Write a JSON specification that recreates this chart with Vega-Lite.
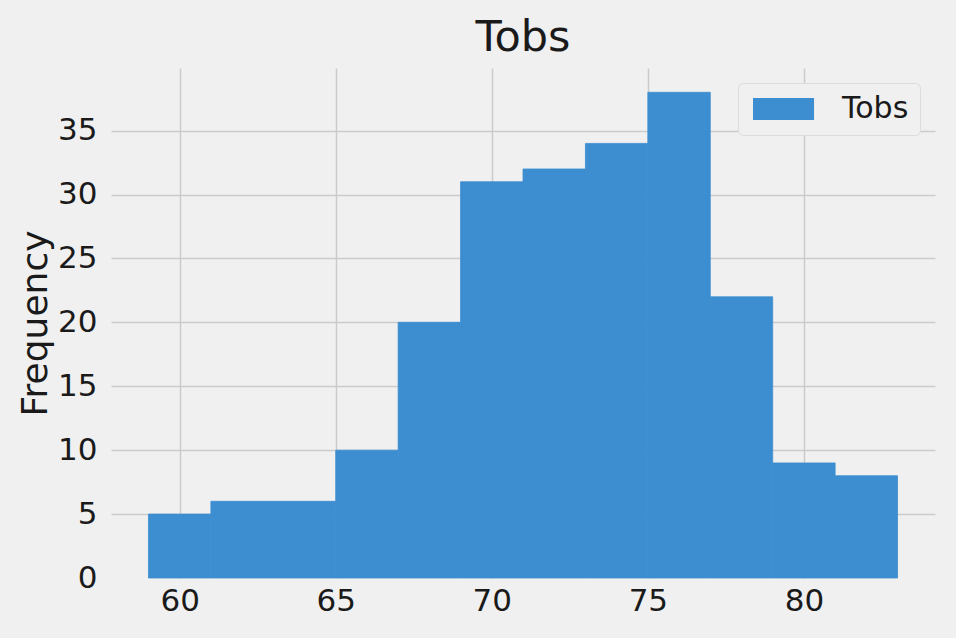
{
  "$schema": "https://vega.github.io/schema/vega-lite/v6.json",
  "width": 824,
  "height": 510,
  "autosize": {"type": "none"},
  "padding": {"left": 111, "top": 68, "right": 21, "bottom": 60},
  "background": "#f0f0f0",
  "config": {
    "font": "DejaVu Sans",
    "view": {"stroke": null, "fill": "#f0f0f0"},
    "axis": {
      "domain": false,
      "ticks": false,
      "tickSize": 0,
      "gridColor": "#cbcbcb",
      "gridWidth": 1.5,
      "labelFont": "DejaVu Sans",
      "labelFontSize": 31,
      "labelColor": "#1a1a1a",
      "titleFont": "DejaVu Sans",
      "titleFontWeight": "normal",
      "titleColor": "#1a1a1a"
    }
  },
  "title": {
    "text": "Tobs",
    "font": "DejaVu Sans",
    "fontSize": 43,
    "fontWeight": "normal",
    "color": "#1a1a1a",
    "anchor": "middle",
    "offset": 8
  },
  "data": {
    "values": [
      {"bin_start": 59, "bin_end": 61, "count": 5, "series": "Tobs"},
      {"bin_start": 61, "bin_end": 63, "count": 6, "series": "Tobs"},
      {"bin_start": 63, "bin_end": 65, "count": 6, "series": "Tobs"},
      {"bin_start": 65, "bin_end": 67, "count": 10, "series": "Tobs"},
      {"bin_start": 67, "bin_end": 69, "count": 20, "series": "Tobs"},
      {"bin_start": 69, "bin_end": 71, "count": 31, "series": "Tobs"},
      {"bin_start": 71, "bin_end": 73, "count": 32, "series": "Tobs"},
      {"bin_start": 73, "bin_end": 75, "count": 34, "series": "Tobs"},
      {"bin_start": 75, "bin_end": 77, "count": 38, "series": "Tobs"},
      {"bin_start": 77, "bin_end": 79, "count": 22, "series": "Tobs"},
      {"bin_start": 79, "bin_end": 81, "count": 9, "series": "Tobs"},
      {"bin_start": 81, "bin_end": 83, "count": 8, "series": "Tobs"}
    ]
  },
  "mark": {"type": "rect", "stroke": "#3c8ed0", "strokeWidth": 0.8},
  "encoding": {
    "x": {
      "field": "bin_start",
      "type": "quantitative",
      "scale": {"domain": [57.8, 84.2], "nice": false, "zero": false},
      "axis": {
        "title": null,
        "values": [60, 65, 70, 75, 80],
        "labelPadding": 8
      }
    },
    "x2": {"field": "bin_end"},
    "y": {
      "field": "count",
      "type": "quantitative",
      "scale": {"domain": [0, 39.9], "nice": false},
      "axis": {
        "title": "Frequency",
        "titleFontSize": 36,
        "titlePadding": 3,
        "values": [0, 5, 10, 15, 20, 25, 30, 35],
        "labelPadding": 14,
        "gridOpacity": {"condition": {"test": "datum.value === 0", "value": 0}, "value": 1}
      }
    },
    "y2": {"datum": 0},
    "color": {
      "field": "series",
      "type": "nominal",
      "scale": {"range": ["#3c8ed0"]},
      "legend": {
        "title": null,
        "orient": "top-right",
        "offset": 15,
        "symbolType": "M-1,-1L4.55,-1L4.55,1L-1,1Z",
        "symbolSize": 484,
        "symbolStrokeWidth": 0,
        "symbolOpacity": 1,
        "labelFont": "DejaVu Sans",
        "labelFontSize": 30,
        "labelColor": "#1a1a1a",
        "labelOffset": 63,
        "padding": 11,
        "strokeColor": "#dcdcdc",
        "fillColor": "#f0f0f0",
        "cornerRadius": 5
      }
    }
  }
}
